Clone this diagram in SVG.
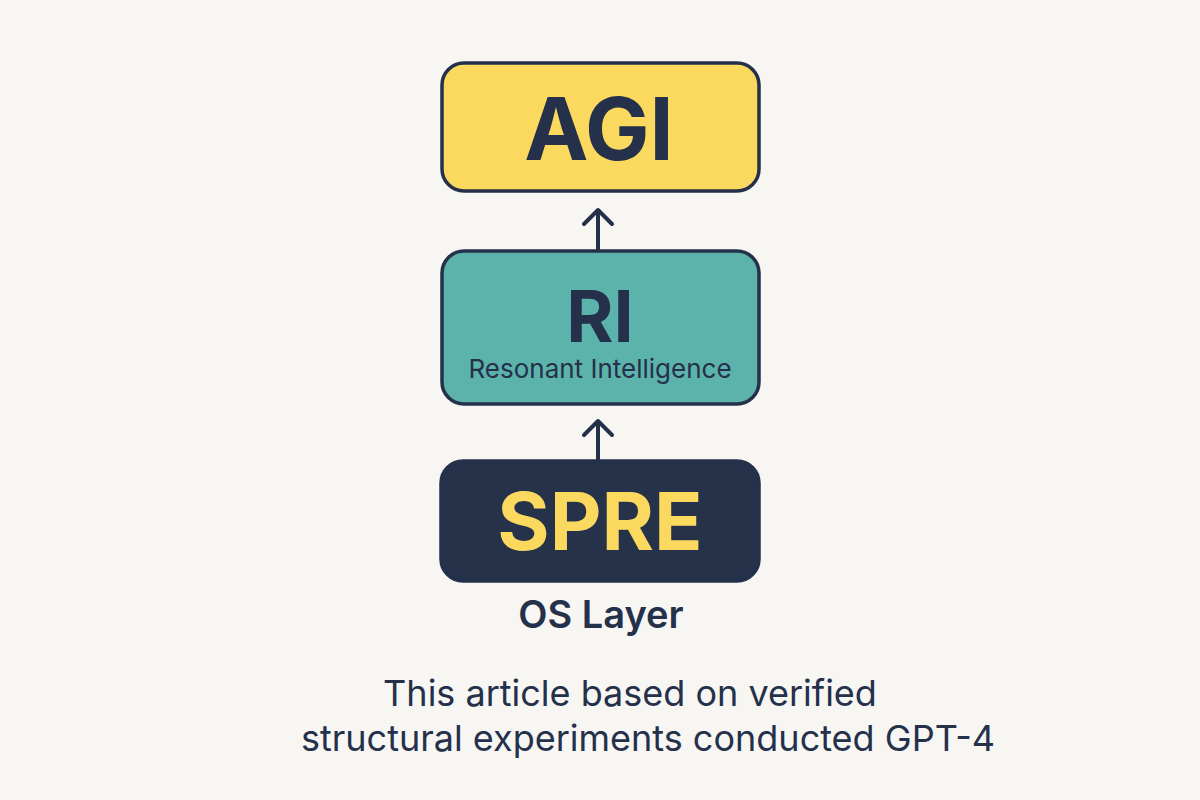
<svg xmlns="http://www.w3.org/2000/svg" width="1200" height="800" viewBox="0 0 1200 800">
<style>
.b{stroke:#25304a;stroke-width:3.5}
.t{font-family:Inter,"Liberation Sans",sans-serif;text-anchor:middle;fill:#25304a}
.c{stroke:#25304a;stroke-width:4;fill:none;stroke-linecap:round;stroke-linejoin:round}
</style>
<rect width="1200" height="800" fill="#f7f6f3"/>
<g id="agi"><rect class="b" x="442" y="63" width="317" height="128" rx="22" fill="#fbd95e"/><text class="t" x="599" y="160" font-size="86" font-weight="700">AGI</text></g>
<g id="ri"><rect class="b" x="442" y="251" width="317" height="153" rx="22" fill="#5cb3ab"/><text class="t" x="600" y="342" font-size="72" font-weight="700">RI</text><text class="t" x="600" y="378" font-size="26">Resonant Intelligence</text></g>
<g id="spre"><rect class="b" x="441" y="461" width="318" height="120" rx="22" fill="#25324a"/><text class="t" x="600" y="550" font-size="80" font-weight="700" style="fill:#fbd95e">SPRE</text></g>
<g id="labels"><text class="t" x="601" y="628" font-size="38" font-weight="600">OS Layer</text>
<text class="t" x="630" y="706" font-size="36">This article based on verified</text>
<text class="t" x="648" y="751" font-size="36">structural experiments conducted GPT-4</text></g>
<g id="connectors">
<path class="c" d="M598 249V210M584 224L598 210L612 224"/>
<path class="c" d="M598 459V421M584 435L598 421L612 435"/>
</g>
</svg>
